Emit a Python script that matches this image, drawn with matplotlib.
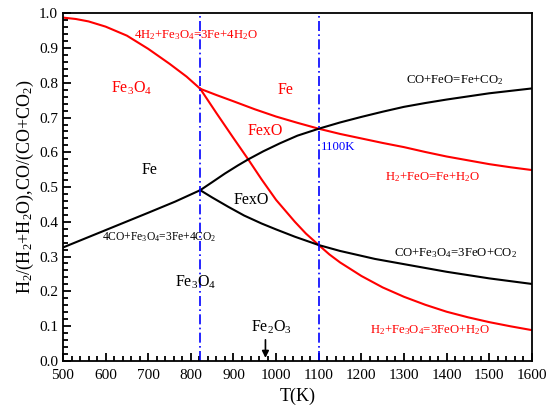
import matplotlib
matplotlib.use("Agg")
import matplotlib.pyplot as plt
from matplotlib.ticker import MultipleLocator, FormatStrFormatter

plt.rcParams['font.family'] = ['Liberation Serif', 'DejaVu Serif']
plt.rcParams['mathtext.fontset'] = 'custom'
plt.rcParams['mathtext.rm'] = 'Liberation Serif'
plt.rcParams['mathtext.it'] = 'Liberation Serif:italic'

# H2 + Fe3O4 = 3Fe + 4H2O (red, 500-822 K)
t_h2_fe = [500, 530, 560, 600, 650, 700, 750, 790, 822]
v_h2_fe = [0.988, 0.984, 0.977, 0.962, 0.936, 0.898, 0.855, 0.818, 0.783]
# H2 + FeO = Fe + H2O (red, 822-1600 K)
t_h2_feo = [822, 860, 900, 950, 1000, 1050, 1100, 1150, 1200, 1250, 1300,
            1350, 1400, 1450, 1500, 1550, 1600]
v_h2_feo = [0.783, 0.765, 0.747, 0.724, 0.703, 0.685, 0.668, 0.653, 0.640, 0.627, 0.615,
            0.601, 0.588, 0.577, 0.566, 0.557, 0.549]
# H2 + Fe3O4 = 3FeO + H2O (red, 822-1600 K)
t_h2_fe3o4 = [822, 860, 900, 935, 966, 1000, 1044, 1070, 1100, 1125, 1150, 1177, 1200,
              1250, 1300, 1350, 1400, 1450, 1500, 1550, 1600]
v_h2_fe3o4 = [0.783, 0.713, 0.641, 0.579, 0.522, 0.463, 0.400, 0.366, 0.333, 0.306, 0.283,
              0.262, 0.244, 0.211, 0.184, 0.161, 0.141, 0.125, 0.111, 0.099, 0.088]
# CO + Fe3O4 = 3Fe + 4CO2 (black, 500-822 K)
t_co_fe = [500, 600, 700, 763, 822]
v_co_fe = [0.326, 0.376, 0.426, 0.458, 0.491]
# CO + FeO = Fe + CO2 (black, 822-1600 K)
t_co_feo = [822, 850, 880, 910, 935, 970, 1009, 1050, 1100, 1150, 1200, 1250, 1300,
            1350, 1400, 1450, 1500, 1550, 1600]
v_co_feo = [0.491, 0.514, 0.539, 0.562, 0.580, 0.603, 0.626, 0.648, 0.668, 0.686, 0.702,
            0.717, 0.731, 0.742, 0.752, 0.761, 0.770, 0.777, 0.784]
# CO + Fe3O4 = 3FeO + CO2 (black, 822-1600 K)
t_co_fe3o4 = [822, 850, 888, 925, 966, 1000, 1044, 1100, 1150, 1200, 1232, 1300,
              1400, 1500, 1600]
v_co_fe3o4 = [0.491, 0.470, 0.443, 0.418, 0.395, 0.378, 0.357, 0.333, 0.316, 0.302,
              0.293, 0.278, 0.256, 0.237, 0.221]

vlines_t = [822, 1100]

fig = plt.figure(figsize=(5.5, 4.07), dpi=100)
ax = fig.add_axes([0.1145, 0.1138, 0.8525, 0.8532])

red = '#ff0000'
for t, v, c in [(t_h2_fe, v_h2_fe, red), (t_h2_feo, v_h2_feo, red),
                (t_h2_fe3o4, v_h2_fe3o4, red), (t_co_fe, v_co_fe, 'black'),
                (t_co_feo, v_co_feo, 'black'), (t_co_fe3o4, v_co_fe3o4, 'black')]:
    ax.plot(t, v, color=c, lw=1.5, solid_joinstyle='round')
for t in vlines_t:
    ax.axvline(t, color='#0000ff', lw=1.2, linestyle=(0, (6, 2, 1, 2)))

ax.set_xlim(500, 1600)
ax.set_ylim(0.0, 1.0)
ax.xaxis.set_major_locator(MultipleLocator(100))
ax.xaxis.set_minor_locator(MultipleLocator(20))
ax.yaxis.set_major_locator(MultipleLocator(0.1))
ax.yaxis.set_minor_locator(MultipleLocator(0.02))
ax.yaxis.set_major_formatter(FormatStrFormatter('%.1f'))
ax.tick_params(which='both', direction='in', top=False, right=False, width=1.3, labelsize=11)
ax.tick_params(which='major', length=6)
ax.tick_params(which='minor', length=3.5)
ax.tick_params(axis='x', which='major', pad=6)
for s in ax.spines.values():
    s.set_linewidth(1.3)

ax.set_xlabel('T(K)', fontsize=13, labelpad=4)
ax.set_ylabel('H$_2$/(H$_2$+H$_2$O),CO/(CO+CO$_2$)', fontsize=13, labelpad=2)

fs_s = 9.2
fs_b = 11.5
ax.text(812, 0.937, '4H$_2$+Fe$_3$O$_4$=3Fe+4H$_2$O', color=red, fontsize=fs_s, ha='center', va='center')
ax.text(662, 0.785, 'Fe$_3$O$_4$', color=red, fontsize=fs_b, ha='center', va='center')
ax.text(1023, 0.78, 'Fe', color=red, fontsize=fs_b, ha='center', va='center')
ax.text(974, 0.66, 'FexO', color=red, fontsize=fs_b, ha='center', va='center')
ax.text(1104, 0.616, '1100K', color='#0000ff', fontsize=fs_s, ha='left', va='center')
ax.text(1420, 0.808, 'CO+FeO=Fe+CO$_2$', color='black', fontsize=fs_s, ha='center', va='center')
ax.text(1367, 0.53, 'H$_2$+FeO=Fe+H$_2$O', color=red, fontsize=fs_s, ha='center', va='center')
ax.text(702, 0.549, 'Fe', color='black', fontsize=fs_b, ha='center', va='center')
ax.text(941, 0.463, 'FexO', color='black', fontsize=fs_b, ha='center', va='center')
ax.text(726, 0.357, '4CO+Fe$_3$O$_4$=3Fe+4CO$_2$', color='black', fontsize=8.3, ha='center', va='center')
ax.text(812, 0.227, 'Fe$_3$O$_4$', color='black', fontsize=fs_b, ha='center', va='center')
ax.text(990, 0.097, 'Fe$_2$O$_3$', color='black', fontsize=fs_b, ha='center', va='center')
ax.annotate('', xy=(975, 0.0), xytext=(975, 0.068),
            arrowprops=dict(arrowstyle='-|>', color='black', lw=1.2, mutation_scale=10))
ax.text(1421, 0.309, 'CO+Fe$_3$O$_4$=3FeO+CO$_2$', color='black', fontsize=fs_s, ha='center', va='center')
ax.text(1362, 0.088, 'H$_2$+Fe$_3$O$_4$=3FeO+H$_2$O', color=red, fontsize=fs_s, ha='center', va='center')

fig.savefig('out.png', dpi=100)
